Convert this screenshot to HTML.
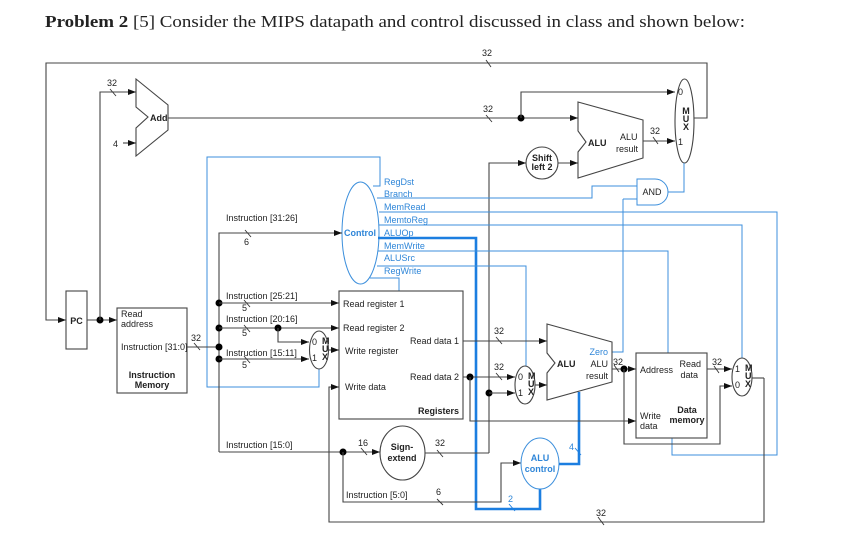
<!DOCTYPE html>
<html><head><meta charset="utf-8"><style>
html,body{margin:0;padding:0;background:#fff;}
svg{display:block;}
text{font-family:"Liberation Sans",sans-serif;font-size:9px;fill:#222;}
.b{font-weight:bold;}
.bl{fill:#2f86d8;}
.k{stroke:#444;stroke-width:1.1;fill:none;}
.u{stroke:#3c8fdc;stroke-width:1;fill:none;}
.U{stroke:#1c7ee0;stroke-width:2.6;fill:none;}
.s{stroke:#333;stroke-width:0.9;}
</style></head><body>
<svg width="844" height="543" viewBox="0 0 844 543" xmlns="http://www.w3.org/2000/svg">
<defs><marker id="a" markerWidth="8" markerHeight="6" refX="8" refY="3" orient="auto" markerUnits="userSpaceOnUse"><path d="M0,0 L8,3 L0,6z" fill="#111"/></marker></defs>
<text x="45" y="27" style="font-family:'Liberation Serif',serif;font-size:16.5px" textLength="700" lengthAdjust="spacingAndGlyphs"><tspan font-weight="bold">Problem 2</tspan> [5] Consider the MIPS datapath and control discussed in class and shown below:</text>

<!-- top loop -->
<path class="k" d="M694,118 H707 V63 H46 V320 H66" marker-end="url(#a)"/>
<line class="s" x1="486" y1="60" x2="491" y2="67"/><text x="482" y="56">32</text>
<!-- PC -->
<rect x="66" y="291" width="21" height="58" class="k"/>
<text x="76.5" y="324" class="b" text-anchor="middle" font-size="10">PC</text>
<path class="k" d="M87,320 H117" marker-end="url(#a)"/>
<circle cx="100" cy="320" r="3.5"/>
<path class="k" d="M100,320 V92 H136" marker-end="url(#a)"/>
<line class="s" x1="110" y1="89" x2="116" y2="96"/><text x="107" y="86">32</text>
<!-- Add -->
<polygon class="k" points="136,79 168,105 168,130 136,156 136,128 148,117 136,107"/>
<text x="150" y="121" class="b" font-size="8.5">Add</text>
<text x="113" y="147" font-size="11">4</text>
<path class="k" d="M123,143 H136" marker-end="url(#a)"/>
<path class="k" d="M168,118 H578" marker-end="url(#a)"/>
<line class="s" x1="486" y1="115" x2="492" y2="122"/><text x="483" y="112">32</text>
<circle cx="521" cy="118" r="3.5"/>
<path class="k" d="M521,118 V92 H675" marker-end="url(#a)"/>
<!-- top ALU -->
<polygon class="k" points="578,102 643,120 643,158 578,178 578,152 586,142 578,131"/>
<text x="588" y="146" class="b" font-size="10">ALU</text>
<text x="620" y="140" font-size="9.5">ALU</text><text x="616" y="152" font-size="9.5">result</text>
<path class="k" d="M643,141 H675" marker-end="url(#a)"/>
<line class="s" x1="653" y1="137" x2="658" y2="144"/><text x="650" y="134">32</text>
<!-- PC mux -->
<ellipse cx="684.5" cy="121" rx="9.5" ry="42" class="k"/>
<text x="678" y="95" font-size="8">0</text><text x="678" y="145" font-size="8">1</text>
<text x="686" y="114" class="b" font-size="6.5" text-anchor="middle">M</text>
<text x="686" y="122" class="b" font-size="6.5" text-anchor="middle">U</text>
<text x="686" y="130" class="b" font-size="6.5" text-anchor="middle">X</text>
<!-- shift left 2 -->
<circle cx="542" cy="163" r="16" class="k"/>
<text x="542" y="161" class="b" font-size="6.5" text-anchor="middle">Shift</text>
<text x="542" y="170" class="b" font-size="6.5" text-anchor="middle">left 2</text>
<path class="k" d="M558,163 H578" marker-end="url(#a)"/>
<path class="k" d="M489,453 V163 H526" marker-end="url(#a)"/>
<!-- AND -->
<path class="u" d="M637,179 H655 A13,13 0 0 1 655,205 H637 Z"/>
<text x="652" y="195" font-size="6" text-anchor="middle">AND</text>
<path class="u" d="M668,192 H684 V163"/>
<!-- Control -->
<ellipse cx="360.5" cy="233" rx="18.5" ry="51" class="u"/>
<text x="360" y="236" class="b bl" font-size="8.5" text-anchor="middle">Control</text>
<g class="bl" font-size="8.5">
<text x="384" y="185" class="bl">RegDst</text><text x="384" y="197" class="bl">Branch</text><text x="384" y="210" class="bl">MemRead</text><text x="384" y="223" class="bl">MemtoReg</text><text x="384" y="236" class="bl">ALUOp</text><text x="384" y="249" class="bl">MemWrite</text><text x="384" y="261" class="bl">ALUSrc</text><text x="384" y="274" class="bl">RegWrite</text>
</g>
<path class="u" d="M373,186 H380 V157 H207 V387 H319 V369"/>
<path class="u" d="M377,198 H592 V186 H637"/>
<path class="u" d="M623,199 H637 M623,199 V352 H612"/>
<path class="u" d="M379,212 H777 V455 H672 V438"/>
<path class="u" d="M379,225 H742 V358"/>
<path class="U" d="M378,238 H476 V509 H540 V489"/>
<line x1="509" y1="504" x2="515" y2="511" stroke="#1c7ee0" stroke-width="0.9"/><text x="508" y="502" class="bl" font-size="8">2</text>
<path class="u" d="M378,251 H668 V353"/>
<path class="u" d="M377,266 H526 V366"/>
<path class="u" d="M370,278 H399 V291"/>
<!-- instruction memory -->
<rect x="117" y="308" width="70" height="85" class="k"/>
<text x="121" y="317">Read</text><text x="121" y="327">address</text>
<text x="121" y="350">Instruction [31:0]</text>
<text x="152" y="378" class="b" text-anchor="middle">Instruction</text>
<text x="152" y="388" class="b" text-anchor="middle">Memory</text>
<path class="k" d="M187,347 H219"/>
<line class="s" x1="194" y1="343" x2="200" y2="350"/><text x="191" y="341">32</text>
<path class="k" d="M219,452 V233 H342" marker-end="url(#a)"/>
<text x="226" y="221">Instruction [31:26]</text>
<line class="s" x1="245" y1="230" x2="251" y2="237"/><text x="244" y="245">6</text>
<circle cx="219" cy="303" r="3.5"/><circle cx="219" cy="328" r="3.5"/><circle cx="219" cy="347" r="3.5"/><circle cx="219" cy="359" r="3.5"/>
<path class="k" d="M219,303 H339" marker-end="url(#a)"/>
<text x="226" y="299">Instruction [25:21]</text>
<line class="s" x1="244" y1="300" x2="250" y2="307"/><text x="242" y="311">5</text>
<path class="k" d="M219,328 H339" marker-end="url(#a)"/>
<text x="226" y="322">Instruction [20:16]</text>
<line class="s" x1="244" y1="325" x2="250" y2="332"/><text x="242" y="336">5</text>
<circle cx="278" cy="328" r="3.5"/>
<path class="k" d="M278,328 V342 H309" marker-end="url(#a)"/>
<path class="k" d="M219,359 H309" marker-end="url(#a)"/>
<text x="226" y="356">Instruction [15:11]</text>
<line class="s" x1="244" y1="356" x2="250" y2="363"/><text x="242" y="368">5</text>
<ellipse cx="319" cy="350" rx="9.5" ry="19" class="k"/>
<text x="312" y="345" font-size="6">0</text><text x="312" y="361" font-size="6">1</text>
<text x="322" y="344" class="b" font-size="6.5">M</text><text x="322" y="352" class="b" font-size="6.5">U</text><text x="322" y="360" class="b" font-size="6.5">X</text>
<path class="k" d="M328,350 H339" marker-end="url(#a)"/>
<!-- registers -->
<rect x="339" y="291" width="124" height="128" class="k"/>
<text x="343" y="307">Read register 1</text>
<text x="343" y="331">Read register 2</text>
<text x="345" y="354">Write register</text>
<text x="345" y="390">Write data</text>
<text x="459" y="344" text-anchor="end">Read data 1</text>
<text x="459" y="380" text-anchor="end">Read data 2</text>
<text x="459" y="414" class="b" text-anchor="end">Registers</text>
<path class="k" d="M764,378 H764 V522 H329 V387 H339" marker-end="url(#a)"/>
<line class="s" x1="598" y1="517" x2="604" y2="525"/><text x="596" y="516">32</text>
<!-- sign extend -->
<path class="k" d="M219,452 H380" marker-end="url(#a)"/>
<text x="226" y="448">Instruction [15:0]</text>
<circle cx="343" cy="452" r="3.5"/>
<line class="s" x1="361" y1="448" x2="367" y2="455"/><text x="358" y="446">16</text>
<ellipse cx="402.5" cy="453" rx="22.5" ry="27" class="k"/>
<text x="402" y="450" class="b" text-anchor="middle">Sign-</text>
<text x="402" y="461" class="b" text-anchor="middle">extend</text>
<path class="k" d="M425,453 H489"/>
<line class="s" x1="437" y1="450" x2="443" y2="457"/><text x="435" y="446">32</text>
<path class="k" d="M343,452 V502 H501 V463 H521" marker-end="url(#a)"/>
<text x="346" y="498">Instruction [5:0]</text>
<line class="s" x1="437" y1="499" x2="443" y2="505"/><text x="436" y="495">6</text>
<!-- ALU control -->
<ellipse cx="540" cy="463.5" rx="19" ry="25.5" class="u"/>
<text x="540" y="461" class="b bl" font-size="8" text-anchor="middle">ALU</text>
<text x="540" y="472" class="b bl" font-size="8" text-anchor="middle">control</text>
<path class="U" d="M559,464 H579 V392"/>
<line x1="575" y1="448" x2="581" y2="455" stroke="#1c7ee0" stroke-width="0.9"/><text x="569" y="450" class="bl" font-size="8">4</text>
<!-- read data paths -->
<path class="k" d="M463,341 H547" marker-end="url(#a)"/>
<line class="s" x1="496" y1="337" x2="502" y2="344"/><text x="494" y="334">32</text>
<path class="k" d="M463,377 H515" marker-end="url(#a)"/>
<line class="s" x1="496" y1="373" x2="502" y2="380"/><text x="494" y="370">32</text>
<circle cx="470" cy="377" r="3.5"/>
<path class="k" d="M470,377 V421 H636" marker-end="url(#a)"/>
<circle cx="489" cy="393" r="3.5"/>
<path class="k" d="M489,393 H515" marker-end="url(#a)"/>
<ellipse cx="525" cy="385" rx="10" ry="19" class="k"/>
<text x="518" y="380" font-size="6">0</text><text x="518" y="396" font-size="6">1</text>
<text x="528" y="379" class="b" font-size="6.5">M</text><text x="528" y="387" class="b" font-size="6.5">U</text><text x="528" y="395" class="b" font-size="6.5">X</text>
<path class="k" d="M535,385 H547" marker-end="url(#a)"/>
<!-- main ALU -->
<polygon class="k" points="547,324 612,342 612,382 547,400 547,373 555,363 547,353"/>
<text x="557" y="367" class="b" font-size="10">ALU</text>
<text x="608" y="355" class="bl" font-size="9.5" text-anchor="end">Zero</text>
<text x="608" y="367" font-size="9.5" text-anchor="end">ALU</text>
<text x="608" y="379" font-size="9.5" text-anchor="end">result</text>
<path class="k" d="M612,369 H636" marker-end="url(#a)"/>
<circle cx="624" cy="369" r="3.5"/>
<line class="s" x1="614" y1="365" x2="619" y2="372"/><text x="613" y="365" font-size="5.5">32</text>
<path class="k" d="M624,369 V444 H720 V386 H732" marker-end="url(#a)"/>
<!-- data memory -->
<rect x="636" y="353" width="71" height="85" class="k"/>
<text x="640" y="373">Address</text>
<text x="701" y="367" text-anchor="end">Read</text><text x="698" y="378" text-anchor="end">data</text>
<text x="640" y="419">Write</text><text x="640" y="429">data</text>
<text x="687" y="413" class="b" text-anchor="middle">Data</text>
<text x="687" y="423" class="b" text-anchor="middle">memory</text>
<path class="k" d="M707,369 H732" marker-end="url(#a)"/>
<line class="s" x1="714" y1="366" x2="719" y2="373"/><text x="712" y="365" font-size="5.5">32</text>
<ellipse cx="742" cy="377" rx="10" ry="19" class="k"/>
<text x="735" y="372" font-size="6">1</text><text x="735" y="388" font-size="6">0</text>
<text x="745" y="371" class="b" font-size="6.5">M</text><text x="745" y="379" class="b" font-size="6.5">U</text><text x="745" y="387" class="b" font-size="6.5">X</text>
<path class="k" d="M752,378 H764"/>
</svg>
</body></html>
